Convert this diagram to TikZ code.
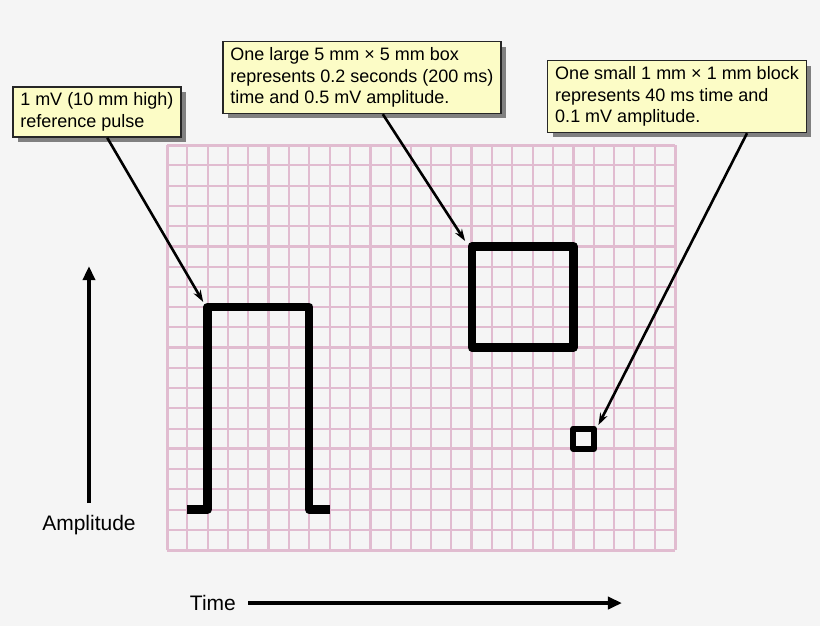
\documentclass[tikz,border=0pt]{standalone}
\usepackage{fontspec}
\setmainfont{Liberation Sans}
\usetikzlibrary{positioning,shadows,arrows.meta}
\definecolor{paper}{RGB}{245,245,245}
\definecolor{gridpink}{RGB}{225,188,208}
\definecolor{notefill}{RGB}{252,252,198}

\begin{document}
\begin{tikzpicture}[x=20.32pt, y=20.25pt,
    callout/.style={draw=black!85, line width=1.5pt, fill=notefill, align=left,
        inner xsep=7.5pt, inner ysep=6pt, anchor=north west,
        font=\fontsize{18pt}{21.5pt}\selectfont,
        drop shadow={shadow xshift=5pt, shadow yshift=-5pt, fill=black!50, opacity=1}},
    pointer/.style={-{Stealth[length=12pt,width=8pt]}, line width=2.6pt},
    axis/.style={-{Triangle[length=14pt,width=12pt]}, line width=4pt},
    axislabel/.style={inner sep=0pt, font=\fontsize{21pt}{25pt}\selectfont},
    trace/.style={line width=8.5pt, line join=round}]
\fill[paper] (-8.219,-3.753) rectangle (32.136,27.161);
\useasboundingbox (-8.219,-3.753) rectangle (32.136,27.161);
% paper grid
\foreach \x in {0,...,25}
    \draw[gridpink, line width=2pt] (\x,0) -- (\x,20);
\foreach \y in {0,...,20}
    \draw[gridpink, line width=2pt] (0,\y) -- (25,\y);
\foreach \x in {0,5,...,25}
    \draw[gridpink, line width=3pt] (\x,0) -- (\x,20);
\foreach \y in {0,5,...,20}
    \draw[gridpink, line width=3pt] (0,\y) -- (25,\y);
% pulse and boxes
\draw[trace] (1,2) -- (2,2) -- (2,12) -- (7,12) -- (7,2) -- (8,2);
\draw[trace] (15,10) rectangle (20,15);
\draw[trace, line width=6pt] (20,5) rectangle (21,6);
\coordinate (pulsetip) at (1.78,12.25);
\coordinate (largetip) at (14.67,15.26);
\coordinate (smalltip) at (21.23,6.17);
% notes
\node[callout] (pulsenote) at (-7.628,22.91) {1 mV (10 mm high)\\reference pulse};
\node[callout] (largenote) at (2.707,25.14) {One large 5 mm × 5 mm box\\represents 0.2 seconds (200 ms)\\time and 0.5 mV amplitude.};
\node[callout] (smallnote) at (18.70,24.20) {One small 1 mm × 1 mm block\\represents 40 ms time and\\0.1 mV amplitude.};
\draw[pointer] ([xshift=10.5pt]pulsenote.south) -- (pulsetip);
\draw[pointer] ([xshift=21pt]largenote.south) -- (largetip);
\draw[pointer] ([xshift=70pt]smallnote.south) -- (smalltip);
% axes
\coordinate (ampbot) at (-3.84,2.32);
\coordinate (amptop) at (-3.84,14.02);
\draw[axis] (ampbot) -- (amptop);
\node[axislabel, below=11.7pt of ampbot] (amplabel) {Amplitude};
\coordinate (timeleft) at (3.99,-2.62);
\coordinate (timeright) at (22.39,-2.62);
\draw[axis] (timeleft) -- (timeright);
\node[axislabel, left=12pt of timeleft] (timelabel) {Time};
\end{tikzpicture}
\end{document}
